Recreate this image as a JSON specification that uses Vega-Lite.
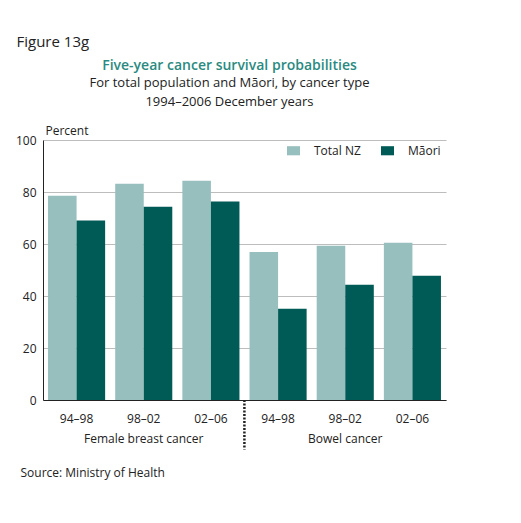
{
  "$schema": "https://vega.github.io/schema/vega-lite/v6.json",
  "autosize": "none",
  "width": 403,
  "height": 260,
  "padding": {"left": 43, "top": 140, "right": 75, "bottom": 123},
  "background": "white",
  "title": {
    "text": "Five-year cancer survival probabilities",
    "subtitle": ["For total population and Māori, by cancer type", "1994–2006 December years"],
    "anchor": "middle",
    "dx": -15,
    "offset": -75,
    "font": "Open Sans",
    "fontSize": 14,
    "fontWeight": 600,
    "color": "#2a8a81",
    "subtitleFont": "Open Sans",
    "subtitleFontSize": 13,
    "subtitleColor": "#222222",
    "subtitlePadding": 4,
    "subtitleLineHeight": 19
  },
  "config": {
    "view": {"stroke": null},
    "font": "Open Sans",
    "axis": {"labelFont": "Open Sans", "titleFont": "Open Sans", "labelColor": "#222222", "titleColor": "#222222"}
  },
  "data": {
    "values": [
      {"group": "Female breast cancer|94–98", "series": "Total NZ", "value": 78.6},
      {"group": "Female breast cancer|94–98", "series": "Māori", "value": 69.0},
      {"group": "Female breast cancer|98–02", "series": "Total NZ", "value": 83.2},
      {"group": "Female breast cancer|98–02", "series": "Māori", "value": 74.3},
      {"group": "Female breast cancer|02–06", "series": "Total NZ", "value": 84.3},
      {"group": "Female breast cancer|02–06", "series": "Māori", "value": 76.3},
      {"group": "Bowel cancer|94–98", "series": "Total NZ", "value": 56.9},
      {"group": "Bowel cancer|94–98", "series": "Māori", "value": 35.1},
      {"group": "Bowel cancer|98–02", "series": "Total NZ", "value": 59.3},
      {"group": "Bowel cancer|98–02", "series": "Māori", "value": 44.3},
      {"group": "Bowel cancer|02–06", "series": "Total NZ", "value": 60.5},
      {"group": "Bowel cancer|02–06", "series": "Māori", "value": 47.8}
    ]
  },
  "resolve": {"axis": {"y": "independent"}},
  "layer": [
    {
      "mark": {"type": "bar"},
      "encoding": {
        "x": {
          "field": "group",
          "type": "nominal",
          "scale": {
            "domain": ["Female breast cancer|94–98", "Female breast cancer|98–02", "Female breast cancer|02–06", "Bowel cancer|94–98", "Bowel cancer|98–02", "Bowel cancer|02–06"],
            "paddingInner": 0.15,
            "paddingOuter": 0.075
          },
          "axis": {
            "labelAngle": 0,
            "labelExpr": "split(datum.value, '|')[1] == '98–02' ? [split(datum.value, '|')[1], split(datum.value, '|')[0]] : split(datum.value, '|')[1]",
            "labelFontSize": 12,
            "labelLineHeight": 20,
            "labelPadding": 13,
            "ticks": false,
            "tickSize": 0,
            "domainColor": "#222222",
            "title": "Source: Ministry of Health",
            "titleFontSize": 12,
            "titleFontWeight": "normal",
            "titleAlign": "left",
            "titleBaseline": "alphabetic",
            "titleAnchor": null,
            "titleX": -23,
            "titleY": 76
          }
        },
        "xOffset": {
          "field": "series",
          "type": "nominal",
          "scale": {"domain": ["Total NZ", "Māori"], "paddingInner": 0, "paddingOuter": 0}
        },
        "y": {
          "field": "value",
          "type": "quantitative",
          "scale": {"domain": [0, 100], "nice": false},
          "axis": {
            "values": [0, 20, 40, 60, 80, 100],
            "ticks": false,
            "tickSize": 0,
            "labelPadding": 7,
            "labelFontSize": 12,
            "domainColor": "#222222",
            "gridColor": "#bdbdbd",
            "title": "Percent",
            "titleAngle": 0,
            "titleFontSize": 12,
            "titleFontWeight": "normal",
            "titleAlign": "left",
            "titleBaseline": "alphabetic",
            "titleAnchor": null,
            "titleX": 2,
            "titleY": -6
          }
        },
        "color": {
          "field": "series",
          "type": "nominal",
          "scale": {"domain": ["Total NZ", "Māori"], "range": ["#96bfbe", "#005b56"]},
          "legend": {
            "orient": "none",
            "legendX": 244,
            "legendY": 4,
            "direction": "horizontal",
            "title": null,
            "padding": 0,
            "symbolType": "M-1,-0.7H1V0.7H-1Z",
            "symbolSize": 169,
            "symbolStrokeWidth": 0,
            "labelFontSize": 12,
            "labelColor": "#222222",
            "labelOffset": 14,
            "columnPadding": 20
          }
        }
      }
    },
    {
      "transform": [{"filter": "datum.group == 'Bowel cancer|94–98' && datum.series == 'Total NZ'"}],
      "mark": {"type": "rule", "color": "#222222", "strokeWidth": 2.5, "strokeDash": [2, 1.5]},
      "encoding": {
        "x": {"field": "group", "type": "nominal", "bandPosition": -0.09},
        "y": {
          "datum": 0,
          "type": "quantitative",
          "axis": {
            "orient": "right",
            "labels": false,
            "ticks": false,
            "domain": false,
            "grid": false,
            "title": "Figure 13g",
            "titleAngle": 0,
            "titleFontSize": 15,
            "titleFontWeight": "normal",
            "titleAlign": "left",
            "titleBaseline": "alphabetic",
            "titleAnchor": null,
            "titleX": -430,
            "titleY": -94
          }
        },
        "y2": {"datum": -19}
      }
    }
  ]
}
